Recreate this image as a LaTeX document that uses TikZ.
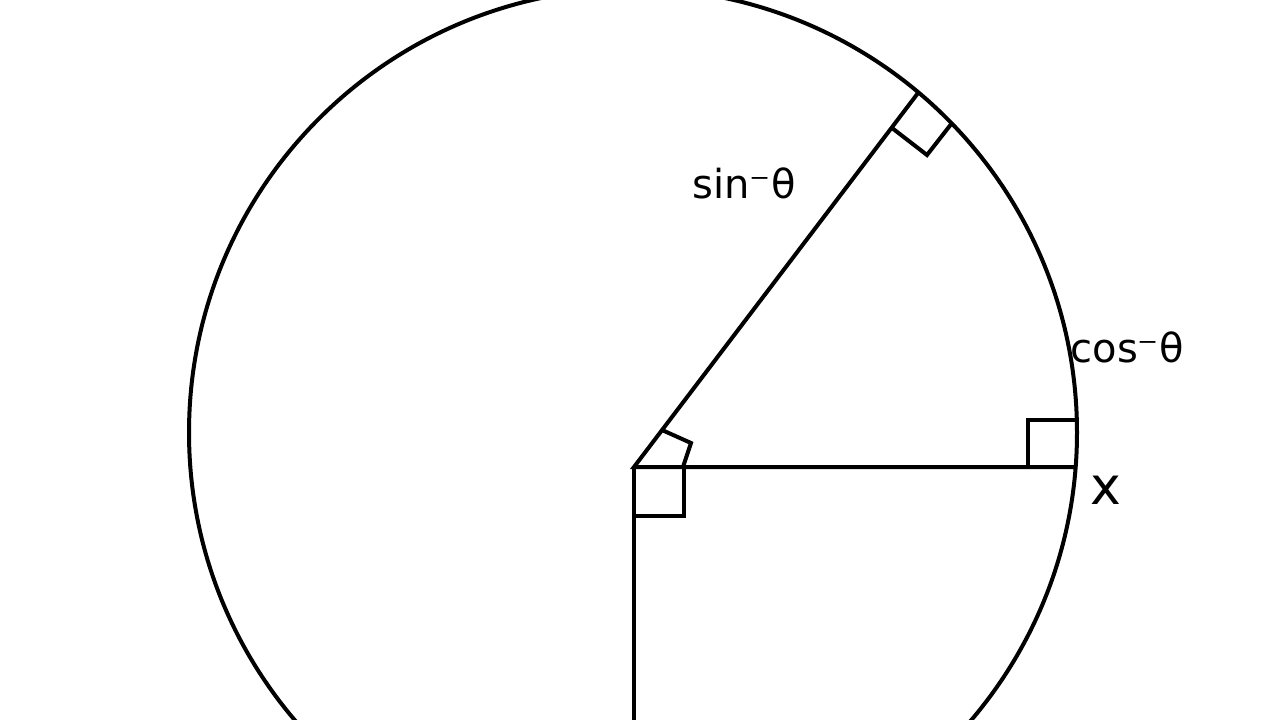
\documentclass[tikz,border=0pt]{standalone}
\usepackage{fontspec}
\setmainfont{DejaVu Sans}
\begin{document}
\begin{tikzpicture}[x=1pt,y=-1pt,
  ln/.style={line width=4pt,line join=miter,line cap=butt},
  lbl/.style={inner sep=0pt,font=\fontsize{40}{48}\selectfont}]
\useasboundingbox (0,0) rectangle (1280,720);
\fill[white] (0,0) rectangle (1280,720);
\clip (0,0) rectangle (1280,720);
\coordinate (c) at (633,432.5);
\coordinate (o) at (634,467);
\coordinate (p) at (918,93);
\coordinate (q) at (1076,467);
\coordinate (b) at (634,730);
\draw[ln] (c) circle[radius=444];
\draw[ln] (p) -- (o) -- (q);
\draw[ln] (o) -- (b);
% right-angle marks
\draw[ln] (892,128) -- (927,155) -- (952,123);
\draw[ln] (1028,467) -- (1028,420) -- (1076,420);
\draw[ln] (634,516) -- (684,516) -- (684,467);
\draw[ln] (662,430) -- (691,443) -- (683,467);
\node[lbl] (s) at (744,183) {sin⁻θ};
\node[lbl] (co) at (1127,347) {cos⁻θ};
\node[lbl,font=\fontsize{52}{60}\selectfont] (xl) at (1106,490) {x};
\end{tikzpicture}
\end{document}
